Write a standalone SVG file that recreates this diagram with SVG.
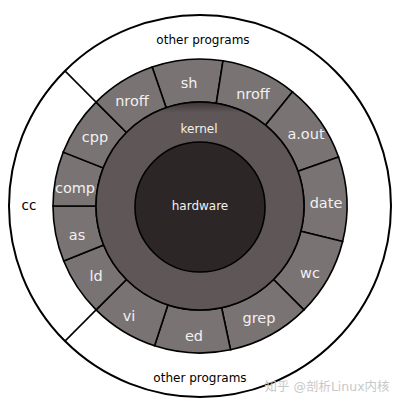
<svg xmlns="http://www.w3.org/2000/svg" width="403" height="408" viewBox="0 0 403 408">
<style>
.seg{fill:#797373;stroke:#000;stroke-width:1.6}
.lbl{font-family:"DejaVu Sans",sans-serif;font-size:14.5px;fill:#f2f0f0;text-anchor:middle}
.dark{font-family:"DejaVu Sans",sans-serif;font-size:12px;fill:#000;text-anchor:middle}
.inner{font-family:"DejaVu Sans",sans-serif;font-size:12px;fill:#f2f0f0;text-anchor:middle}
</style>
<defs>
<linearGradient id="kg" x1="0" y1="102" x2="0" y2="310" gradientUnits="userSpaceOnUse">
<stop offset="0" stop-color="#3e3636"/>
<stop offset="0.05" stop-color="#5f5757"/>
<stop offset="1" stop-color="#5f5757"/>
</linearGradient>
</defs>
<rect width="403" height="408" fill="#fff"/>
<g id="outer">
<circle cx="200" cy="206" r="191" fill="#fff" stroke="#000" stroke-width="2"/>
<text class="dark" x="203" y="44">other programs</text>
<text class="dark" x="200" y="382">other programs</text>
</g>
<g id="cc">
<text class="dark" x="29" y="210" style="font-size:13.5px">cc</text>
</g>
<g id="connectors" stroke="#000" stroke-width="1.6" fill="none">
<line x1="64.94" y1="70.94" x2="96.06" y2="102.06"/>
<line x1="64.94" y1="341.06" x2="96.06" y2="309.94"/>
</g>
<g id="seg-sh"><path class="seg" d="M152.14,67.01 A147,147 0 0 1 222.99,60.81 L216.27,103.28 A104,104 0 0 0 166.14,107.67 Z"/><text class="lbl" x="189" y="88">sh</text></g>
<g id="seg-nroff-r"><path class="seg" d="M222.99,60.81 A147,147 0 0 1 292.51,91.77 L265.45,125.18 A104,104 0 0 0 216.27,103.28 Z"/><text class="lbl" x="253" y="99">nroff</text></g>
<g id="seg-aout"><path class="seg" d="M292.51,91.77 A147,147 0 0 1 338.56,156.93 L298.03,171.28 A104,104 0 0 0 265.45,125.18 Z"/><text class="lbl" x="306" y="139">a.out</text></g>
<g id="seg-date"><path class="seg" d="M338.56,156.93 A147,147 0 0 1 342.63,241.56 L300.91,231.16 A104,104 0 0 0 298.03,171.28 Z"/><text class="lbl" x="326" y="208">date</text></g>
<g id="seg-wc"><path class="seg" d="M342.63,241.56 A147,147 0 0 1 303.94,309.94 L273.54,279.54 A104,104 0 0 0 300.91,231.16 Z"/><text class="lbl" x="310" y="278">wc</text></g>
<g id="seg-grep"><path class="seg" d="M303.94,309.94 A147,147 0 0 1 230.56,349.78 L221.62,307.72 A104,104 0 0 0 273.54,279.54 Z"/><text class="lbl" x="259" y="323">grep</text></g>
<g id="seg-ed"><path class="seg" d="M230.56,349.78 A147,147 0 0 1 154.58,345.81 L167.86,304.91 A104,104 0 0 0 221.62,307.72 Z"/><text class="lbl" x="194" y="341">ed</text></g>
<g id="seg-vi"><path class="seg" d="M154.58,345.81 A147,147 0 0 1 96.06,309.94 L126.46,279.54 A104,104 0 0 0 167.86,304.91 Z"/><text class="lbl" x="129" y="321">vi</text></g>
<g id="seg-ld"><path class="seg" d="M96.06,309.94 A147,147 0 0 1 63.70,261.07 L103.57,244.96 A104,104 0 0 0 126.46,279.54 Z"/><text class="lbl" x="96" y="281">ld</text></g>
<g id="seg-as"><path class="seg" d="M63.70,261.07 A147,147 0 0 1 53,206 L96,206 A104,104 0 0 0 103.57,244.96 Z"/><text class="lbl" x="77" y="240">as</text></g>
<g id="seg-comp"><path class="seg" d="M53,206 A147,147 0 0 1 63.23,152.12 L103.24,167.88 A104,104 0 0 0 96,206 Z"/><text class="lbl" x="75" y="193">comp</text></g>
<g id="seg-cpp"><path class="seg" d="M63.23,152.12 A147,147 0 0 1 96.06,102.06 L126.46,132.46 A104,104 0 0 0 103.24,167.88 Z"/><text class="lbl" x="95" y="142">cpp</text></g>
<g id="seg-nroff-l"><path class="seg" d="M96.06,102.06 A147,147 0 0 1 152.14,67.01 L166.14,107.67 A104,104 0 0 0 126.46,132.46 Z"/><text class="lbl" x="132" y="106">nroff</text></g>
<g id="kernel">
<circle cx="200" cy="206" r="104" fill="url(#kg)" stroke="#000" stroke-width="1.6"/>
<text class="inner" x="199" y="133">kernel</text>
</g>
<g id="hardware">
<circle cx="200" cy="207" r="65" fill="#2c2626" stroke="#000" stroke-width="1.6"/>
<text class="inner" x="200" y="210">hardware</text>
</g>
<g id="watermark">
<text x="327" y="391" font-family="'DejaVu Sans','Noto Sans CJK SC',sans-serif" font-size="12.5" fill="#c8c8c8" text-anchor="middle">知乎 @剖析Linux内核</text>
</g>
</svg>
